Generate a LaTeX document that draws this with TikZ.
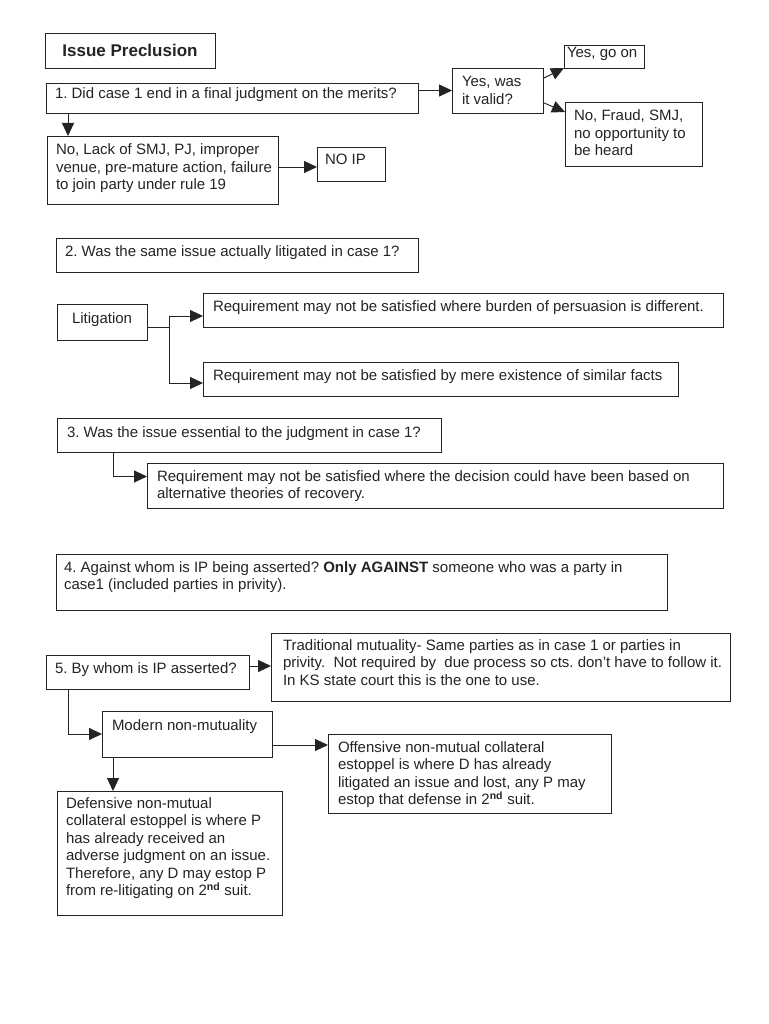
\documentclass[tikz,border=0pt]{standalone}
\usepackage{fontspec}
\setmainfont{Liberation Sans}
\usetikzlibrary{arrows.meta,calc}
\definecolor{ink}{rgb}{0.14,0.14,0.14}
\frenchspacing
\newcommand\bx[8]{%
\node[bxs, minimum width=#4pt, minimum height=#5pt] (#1) at (#2,#3) {};
\node[txs] (#1t) at ($(#1.north west)+(#6,#7)$) {\parbox[t]{700pt}{\frenchspacing #8}};}
\begin{document}
\begin{tikzpicture}[x=1pt,y=-1pt,
 bxs/.style={draw=ink, line width=0.9pt, inner sep=0pt, outer sep=0pt, anchor=north west},
 txs/.style={text=ink, inner sep=0pt, outer sep=0pt, anchor=base west, font=\fontsize{15}{17.5}\selectfont},
 arr/.style={draw=ink, line width=0.9pt, -{Triangle[length=13pt,width=12pt]}},
 ln/.style={draw=ink, line width=0.9pt}]
\useasboundingbox (0,0) rectangle (768,1024);
\fill[white] (0,0) rectangle (768,1024);

\node[bxs, minimum width=170pt, minimum height=35pt, text=ink, font=\bfseries\fontsize{17}{20}\selectfont] (title) at (45,33) {Issue Preclusion};

\bx{box1}{46}{83}{372}{30}{9}{16}{1. Did case 1 end in a final judgment on the merits?}
\bx{nobox}{47}{136}{231}{68}{9}{19}{No, Lack of SMJ, PJ, improper\\venue, pre-mature action, failure\\to join party under rule 19}
\bx{noip}{317}{147}{68}{34}{8}{18}{NO IP}
\bx{yeswas}{452}{68}{91}{45}{10}{19}{Yes, was\\it valid?}
\bx{yesgo}{564}{45}{80}{23}{3}{13}{Yes, go on}
\bx{nofraud}{565}{102}{137}{64}{9}{19}{No, Fraud, SMJ,\\no opportunity to\\be heard}

\bx{box2}{56}{238}{362}{34}{9}{18}{2. Was the same issue actually litigated in case 1?}
\bx{litig}{57}{304}{90}{36}{15}{19}{Litigation}
\bx{req1}{203}{293}{520}{34}{10}{18}{Requirement may not be satisfied where burden of persuasion is different.}
\bx{req2}{203}{362}{475}{34}{10}{18}{Requirement may not be satisfied by mere existence of similar facts}

\bx{box3}{57}{418}{384}{34}{10}{19}{3. Was the issue essential to the judgment in case 1?}
\bx{req3}{147}{463}{576}{45}{10}{18}{Requirement may not be satisfied where the decision could have been based on\\alternative theories of recovery.}

\bx{box4}{56}{554}{611}{56}{8}{18}{4. Against whom is IP being asserted? \textbf{Only AGAINST} someone who was a party in\\case1 (included parties in privity).}

\bx{box5}{46}{655}{203}{34}{9}{18}{5. By whom is IP asserted?}
\bx{trad}{271}{633}{459}{68}{12}{17}{Traditional mutuality- Same parties as in case 1 or parties in\\privity.~ Not required by~ due process so cts. don’t have to follow it.\\In KS state court this is the one to use.}
\bx{modern}{102}{711}{170}{46}{10}{19}{Modern non-mutuality}
\bx{offensive}{328}{734}{283}{79}{10}{18}{Offensive non-mutual collateral\\estoppel is where D has already\\litigated an issue and lost, any P may\\estop that defense in 2\textsuperscript{\bfseries nd} suit.}
\bx{defensive}{57}{791}{225}{124}{9}{17}{Defensive non-mutual\\collateral estoppel is where P\\has already received an\\adverse judgment on an issue.\\Therefore, any D may estop P\\from re-litigating on 2\textsuperscript{\bfseries nd} suit.}

% connectors
\draw[arr] ([xshift=22pt]box1.south west) -- ([xshift=21pt]nobox.north west);
\draw[arr] ([yshift=3pt]nobox.east) -- ([yshift=-3pt]noip.west);
\draw[arr] (box1.east |- yeswas.west) -- (yeswas.west);
\draw[arr] ([yshift=12pt]yeswas.east) -- (yesgo.south west);
\draw[arr] ([yshift=-12pt]yeswas.east) -- ([yshift=-10pt]nofraud.north west);

\coordinate (jl) at (169,327);
\draw[ln] (litig.east |- jl) -- (jl);
\draw[arr] (jl) |- ([yshift=-6pt]req1.west);
\draw[arr] (jl) |- ([yshift=-4pt]req2.west);

\draw[arr] ([xshift=56pt]box3.south west) |- ([yshift=9pt]req3.west);

\draw[arr] ([yshift=6pt]box5.east) -- ([yshift=1pt]trad.west);
\draw[arr] ([xshift=22pt]box5.south west) |- (modern.west);
\draw[arr] ([yshift=-11pt]modern.east) -- ([yshift=28.5pt]offensive.west);
\draw[arr] ([xshift=11pt]modern.south west) -- ([xshift=56pt]defensive.north west);
\end{tikzpicture}
\end{document}
